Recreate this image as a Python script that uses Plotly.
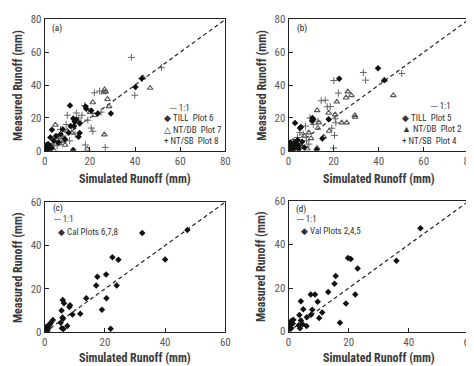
import plotly.graph_objects as go

W, H = 474, 366

# ---------------- data ----------------
a_till_x = [11.2, 18.1, 18.4, 20.6, 23.5, 29.3, 40.2, 43.0, 12.6, 13.3, 15.5, 15.5, 13.0, 3.2, 5.0, 7.0, 9.0, 10.5, 12.6, 6.0, 4.0, 2.0, 1.0, 0.5, 1.5, 3.0, 2.5, 8.0, 15.0, 0.2, 0.8, 1.2, 2.2, 11.5, 14.0]
a_till_y = [27.5, 27.0, 25.5, 24.5, 22.6, 22.6, 38.8, 44.0, 19.6, 17.6, 16.7, 10.8, 15.0, 12.8, 9.0, 10.0, 7.0, 11.0, 0.4, 5.0, 6.0, 3.0, 2.0, 0.5, 4.0, 1.5, 8.0, 13.0, 8.5, 1.0, 3.5, 0.3, 2.5, 15.0, 19.0]
a_ntdb_x = [26.5, 27.0, 26.2, 27.8, 28.5, 21.3, 20.1, 22.0, 46.7, 26.4, 18.9, 4.7, 8.3, 5.5, 10.0, 2.0, 3.0, 6.5, 1.0, 0.5, 7.5, 12.0, 4.0, 9.0, 43.5]
a_ntdb_y = [37.3, 36.0, 35.5, 31.4, 27.0, 29.4, 23.5, 21.6, 38.2, 9.8, 1.0, 15.7, 5.9, 8.0, 12.0, 1.0, 3.0, 4.5, 0.5, 2.0, 6.5, 11.0, 0.3, 3.5, 44.5]
a_ntsb_x = [38.4, 51.7, 39.9, 43.0, 24.3, 22.0, 17.7, 16.5, 19.1, 10.0, 21.3, 20.6, 26.8, 15.0, 12.0, 8.0, 6.0, 4.0, 2.0, 9.5, 13.5, 5.5, 3.0, 1.0, 7.0, 11.0, 18.0, 0.5, 14.0, 25.0, 16.0]
a_ntsb_y = [56.9, 50.6, 33.8, 44.0, 36.3, 35.3, 27.5, 21.6, 18.6, 21.6, 11.8, 13.8, 2.0, 20.0, 14.0, 9.0, 7.5, 4.0, 2.5, 16.0, 10.0, 3.0, 1.0, 0.5, 13.0, 6.0, 3.5, 1.5, 23.0, 23.5, 17.0]

b_till_x = [39.7, 22.5, 42.5, 10.6, 11.0, 2.9, 5.1, 5.5, 10.5, 15.0, 17.8, 2.5, 4.0, 4.5, 1.0, 0.5, 1.5, 2.0, 3.0, 0.2, 0.8, 1.2, 2.5, 3.5, 4.5, 6.0, 7.0, 12.5, 0.3, 1.8]
b_till_y = [50.2, 43.8, 43.0, 20.0, 19.2, 16.8, 13.8, 14.5, 18.1, 7.4, 19.1, 5.0, 6.5, 3.0, 4.0, 2.0, 1.0, 3.5, 2.5, 3.0, 5.0, 0.5, 1.5, 4.0, 1.0, 5.5, 2.0, 0.5, 4.5, 2.2]
b_ntdb_x = [26.3, 25.5, 27.9, 21.4, 12.7, 17.8, 20.7, 29.4, 29.6, 13.4, 23.6, 25.8, 46.5, 42.5, 15.6, 12.7, 8.3, 10.0, 7.0, 5.0, 3.0, 1.5, 4.0, 6.0, 9.0, 2.0, 18.0, 13.0]
b_ntdb_y = [36.0, 32.3, 33.7, 29.8, 24.6, 23.0, 22.0, 21.5, 20.5, 17.1, 17.1, 17.1, 33.7, 43.0, 8.4, 1.6, 1.2, 7.5, 9.0, 5.0, 3.0, 1.0, 0.5, 2.5, 11.0, 6.0, 12.0, 13.8]
b_ntsb_x = [33.2, 34.2, 50.2, 20.1, 22.1, 16.3, 14.5, 18.5, 20.7, 19.2, 9.5, 20.4, 20.0, 11.0, 7.5, 5.0, 4.0, 8.0, 13.0, 17.2, 3.0, 6.5, 1.0, 21.0, 9.0]
b_ntsb_y = [47.7, 43.0, 47.1, 42.8, 35.1, 30.8, 30.4, 26.9, 19.5, 13.7, 20.0, 9.3, 1.6, 16.0, 15.0, 11.0, 8.0, 6.0, 18.0, 26.8, 2.0, 10.0, 1.0, 17.0, 4.0]

c_cal_x = [47.4, 32.4, 40.0, 22.5, 24.5, 20.4, 17.5, 17.1, 23.9, 13.8, 20.5, 19.0, 21.9, 6.0, 6.4, 8.4, 8.2, 5.6, 9.2, 11.8, 5.9, 6.1, 5.3, 7.5, 5.7, 6.2, 2.7, 2.0, 1.4, 0.5, 0.3, 0.1, 0.9, 1.2, 1.8]
c_cal_y = [47.1, 45.7, 33.5, 34.6, 33.4, 26.6, 25.6, 21.6, 21.6, 15.7, 15.7, 10.4, 1.6, 14.9, 13.4, 12.4, 11.6, 10.0, 8.2, 8.5, 6.8, 6.2, 4.4, 2.9, 1.8, 1.5, 5.7, 4.4, 3.2, 2.5, 1.5, 0.3, 0.7, 1.8, 3.9]

d_val_x = [43.9, 35.9, 19.8, 20.7, 23.0, 15.7, 15.3, 13.2, 22.2, 7.4, 8.8, 19.1, 9.7, 4.1, 4.9, 7.9, 11.2, 17.1, 10.2, 7.5, 6.1, 3.6, 4.1, 4.7, 6.0, 3.8, 3.4, 1.6, 0.9, 0.3, 0.0, 0.9, 0.1, 1.4]
d_val_y = [47.5, 32.6, 33.8, 33.4, 29.0, 25.6, 22.0, 18.2, 17.1, 17.1, 17.1, 12.9, 13.7, 14.0, 10.3, 10.0, 8.8, 4.1, 6.2, 7.8, 6.6, 7.6, 5.1, 3.4, 2.6, 1.5, 2.9, 5.4, 4.9, 3.2, 2.2, 1.5, 0.3, 3.7]

top_range = [0, 80]
bot_range = [0, 60]
top_ticks = [0, 20, 40, 60, 80]
bot_ticks = [0, 20, 40, 60]

x_title = "Simulated Runoff (mm)"
y_title = "Measured Runoff (mm)"

# ---------------- styling ----------------
FONT = "Liberation Sans Narrow, Roboto Condensed, Roboto, sans-serif"
TICKC = "#595959"
TITLEC = "#3a3a3a"

def P(px, py):
    return px / W, 1 - py / H

fig = go.Figure()

till_m = dict(symbol="diamond", size=5, color="#111111")
ntdb_m = dict(symbol="triangle-up-open", size=5, color="#555555", line=dict(width=1.1))
ntsb_m = dict(symbol="cross-thin", size=5, line=dict(width=1, color="#666666"), color="#666666")

def add(x, y, m, xa, ya):
    fig.add_trace(go.Scatter(x=x, y=y, mode="markers", marker=m, xaxis=xa, yaxis=ya,
                             showlegend=False, hoverinfo="skip"))

def add_line(rng, xa, ya):
    fig.add_trace(go.Scatter(x=rng, y=rng, mode="lines", xaxis=xa, yaxis=ya, showlegend=False,
                             line=dict(color="#222222", width=1.2, dash="4px,3px"), hoverinfo="skip"))

# panel a
add_line(top_range, "x", "y")
add(a_ntdb_x, a_ntdb_y, ntdb_m, "x", "y")
add(a_ntsb_x, a_ntsb_y, ntsb_m, "x", "y")
add(a_till_x, a_till_y, till_m, "x", "y")
# panel b
add_line(top_range, "x2", "y2")
add(b_ntdb_x, b_ntdb_y, ntdb_m, "x2", "y2")
add(b_ntsb_x, b_ntsb_y, ntsb_m, "x2", "y2")
add(b_till_x, b_till_y, till_m, "x2", "y2")
# panel c
add_line(bot_range, "x3", "y3")
add(c_cal_x, c_cal_y, till_m, "x3", "y3")
# panel d
add_line(bot_range, "x4", "y4")
add(d_val_x, d_val_y, till_m, "x4", "y4")

def ax(domain, rng, ticks, anchor):
    return dict(domain=domain, range=rng, tickvals=ticks, anchor=anchor,
                showgrid=False, zeroline=False, showline=True, mirror=True,
                linecolor="#222222", linewidth=1, ticks="inside", ticklen=4,
                tickcolor="#222222", tickfont=dict(family=FONT, size=11, color=TICKC),
                fixedrange=True)

xa_dom = [34.3 / W, 218 / W]
xb_dom = [282.3 / W, 465.7 / W]
ytop_dom = [1 - 141.7 / H, 1 - 5.7 / H]
yc_dom = [1 - 330 / H, 1 - 195 / H]
yd_dom = [1 - 329.3 / H, 1 - 194 / H]

fig.update_layout(
    width=W, height=H, margin=dict(l=0, r=0, t=0, b=0),
    paper_bgcolor="white", plot_bgcolor="white",
    xaxis=ax(xa_dom, top_range, top_ticks, "y"),
    yaxis=ax(ytop_dom, top_range, top_ticks, "x"),
    xaxis2=ax(xb_dom, top_range, top_ticks, "y2"),
    yaxis2=ax(ytop_dom, top_range, top_ticks, "x2"),
    xaxis3=ax(xa_dom, bot_range, bot_ticks, "y3"),
    yaxis3=ax(yc_dom, bot_range, bot_ticks, "x3"),
    xaxis4=ax(xb_dom, bot_range, bot_ticks, "y4"),
    yaxis4=ax(yd_dom, bot_range, bot_ticks, "x4"),
)

ann = []
def text(px, py, s, size=9, color="#333333", bold=False, xanchor="left", angle=0):
    x, y = P(px, py)
    if bold:
        s = "<b>" + s + "</b>"
    ann.append(dict(x=x, y=y, xref="paper", yref="paper", text=s, showarrow=False,
                    xanchor=xanchor, yanchor="middle", textangle=angle,
                    font=dict(family=FONT, size=size, color=color)))

# axis titles
for cx, cy in [(126, 171), (374, 171), (126.6, 357), (374, 357)]:
    text(cx, cy, x_title, size=12, color=TITLEC, bold=True, xanchor="center")
for cx, cy in [(7, 73.7), (255, 73.7), (7, 262.5), (255, 261.7)]:
    text(cx, cy, y_title, size=12, color=TITLEC, bold=True, xanchor="center", angle=-90)

NB = "\u00a0"
# panel labels
text(40, 15, "(a)", size=9, color="#111111")
text(289, 15, "(b)", size=9, color="#111111")
text(41, 202, "(c)", size=9, color="#111111")
text(288, 203, "(d)", size=9, color="#111111")

# legend a
text(160, 97, "---" + NB + "1:1", size=9)
text(154, 108, "\u25c6" + NB + "TILL" + NB * 2 + "Plot 6", size=9)
text(154, 120, "\u25b3" + NB + "NT/DB" + NB * 2 + "Plot 7", size=9)
text(154, 132, "+" + NB + "NT/SB" + NB * 2 + "Plot 8", size=9)
# legend b
text(425, 95, "---" + NB + "1:1", size=9)
text(396, 108, "\u25c6" + NB + "TILL" + NB * 2 + "Plot 5", size=9)
text(396, 119, "\u25b2" + NB + "NT/DB" + NB * 2 + "Plot 2", size=9)
text(396, 132, "+" + NB + "NT/SB" + NB * 2 + "Plot 4", size=9)
# legend c
text(42, 213, "---" + NB + "1:1", size=9)
text(46, 226, "\u25c6" + NB + "Cal Plots 6,7,8", size=9)
# legend d
text(289, 213, "---" + NB + "1:1", size=9)
text(293, 225, "\u25c6" + NB + "Val Plots 2,4,5", size=9)

fig.update_layout(annotations=ann)
fig.write_html("out.html")
